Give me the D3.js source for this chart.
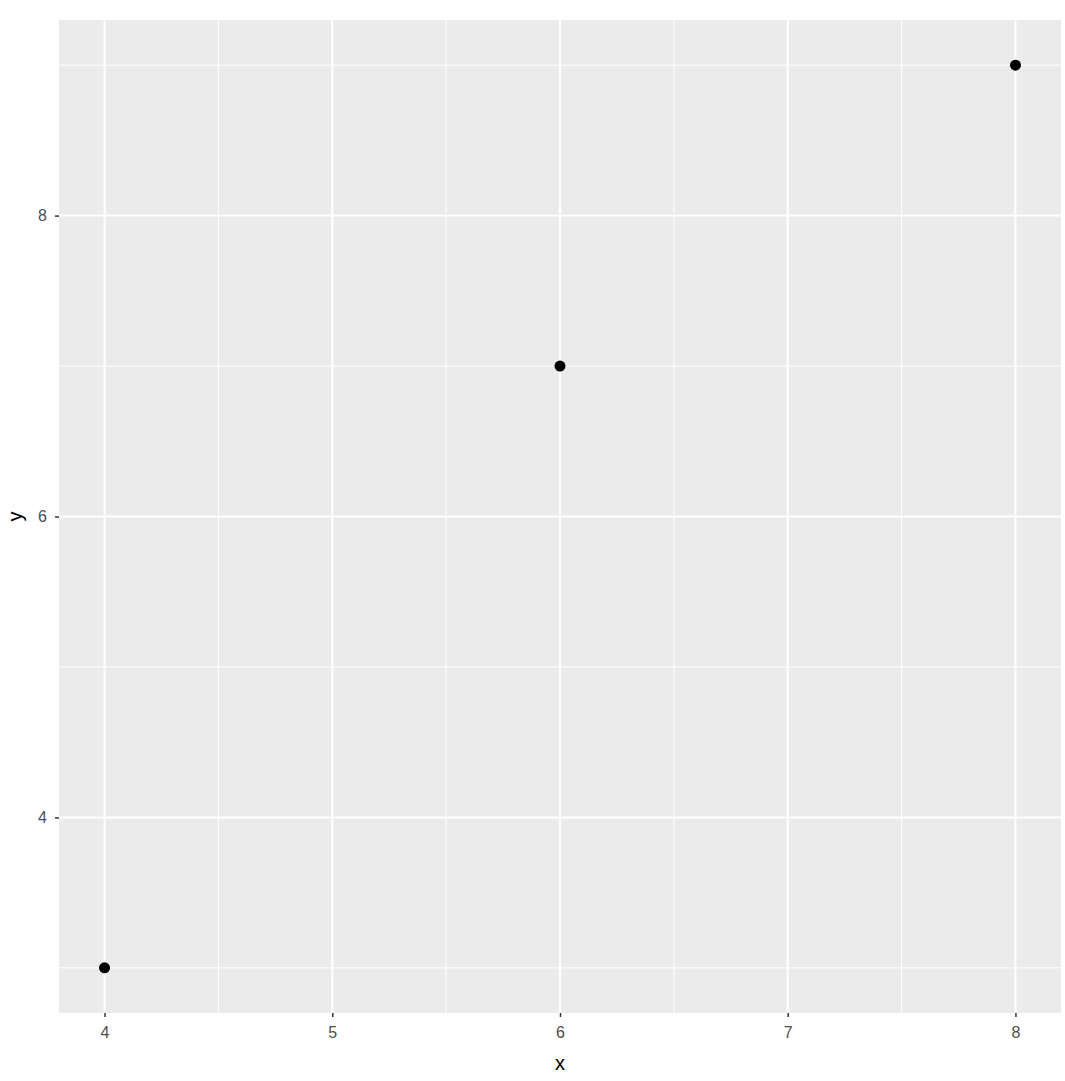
<!DOCTYPE html>
<html>
<head>
<meta charset="utf-8">
<script src="https://cdn.jsdelivr.net/npm/d3@7"></script>
<style>
  body { margin: 0; background: #fff; }
  text { font-family: "Liberation Sans", Arial, sans-serif; }
</style>
</head>
<body>
<svg></svg>
<script>
let xValues = [4, 6, 8]
let yValues = [3, 7, 9]
let xTicks = [4, 5, 6, 7, 8]
let xMinor = [4.5, 5.5, 6.5, 7.5]
let yTicks = [4, 6, 8]
let yMinor = [3, 5, 7, 9]

let width = 1065
let height = 1081
let padLeft = 59, padRight = 1061, padTop = 20, padBottom = 1013

let svg = d3.select('svg').attr('width', width).attr('height', height)

let xScale = d3.scaleLinear().domain([3.8, 8.2]).range([padLeft, padRight])
let yScale = d3.scaleLinear().domain([2.7, 9.3]).range([padBottom, padTop])

// panel
svg.append('rect')
  .attr('x', padLeft).attr('y', padTop)
  .attr('width', padRight - padLeft).attr('height', padBottom - padTop)
  .attr('fill', '#EBEBEB')

// minor grid
svg.selectAll('.xminor').data(xMinor).enter().append('line')
  .attr('x1', d => xScale(d)).attr('x2', d => xScale(d))
  .attr('y1', padTop).attr('y2', padBottom)
  .attr('stroke', '#fff').attr('stroke-width', 1)
svg.selectAll('.yminor').data(yMinor).enter().append('line')
  .attr('y1', d => yScale(d)).attr('y2', d => yScale(d))
  .attr('x1', padLeft).attr('x2', padRight)
  .attr('stroke', '#fff').attr('stroke-width', 1)

// major grid
svg.selectAll('.xmajor').data(xTicks).enter().append('line')
  .attr('x1', d => xScale(d)).attr('x2', d => xScale(d))
  .attr('y1', padTop).attr('y2', padBottom)
  .attr('stroke', '#fff').attr('stroke-width', 2)
svg.selectAll('.ymajor').data(yTicks).enter().append('line')
  .attr('y1', d => yScale(d)).attr('y2', d => yScale(d))
  .attr('x1', padLeft).attr('x2', padRight)
  .attr('stroke', '#fff').attr('stroke-width', 2)

// axes
svg.append('g')
  .attr('transform', 'translate(0,' + padBottom + ')')
  .call(d3.axisBottom(xScale).tickValues(xTicks).tickFormat(d3.format('d')).tickSize(4).tickPadding(10))
svg.append('g')
  .attr('transform', 'translate(' + padLeft + ',0)')
  .call(d3.axisLeft(yScale).tickValues(yTicks).tickFormat(d3.format('d')).tickSize(4).tickPadding(8))

svg.selectAll('.domain').remove()
svg.selectAll('.tick line').attr('stroke', '#333').attr('stroke-width', 1.5)
svg.selectAll('.tick text').attr('fill', '#4D4D4D')
  .attr('font-size', 16)
  .attr('font-family', '"Liberation Sans", Arial, sans-serif')

// axis titles
svg.append('text')
  .attr('x', (padLeft + padRight) / 2).attr('y', 1070)
  .attr('text-anchor', 'middle')
  .attr('font-size', 20)
  .text('x')
svg.append('text')
  .attr('transform', 'translate(22,' + ((padTop + padBottom) / 2) + ') rotate(-90)')
  .attr('text-anchor', 'middle')
  .attr('font-size', 20)
  .text('y')

// points
svg.selectAll('circle').data(xValues).enter().append('circle')
  .attr('cx', (d) => xScale(d))
  .attr('cy', (d, i) => yScale(yValues[i]))
  .attr('r', 5.5)
  .attr('fill', '#000')
</script>
</body>
</html>
